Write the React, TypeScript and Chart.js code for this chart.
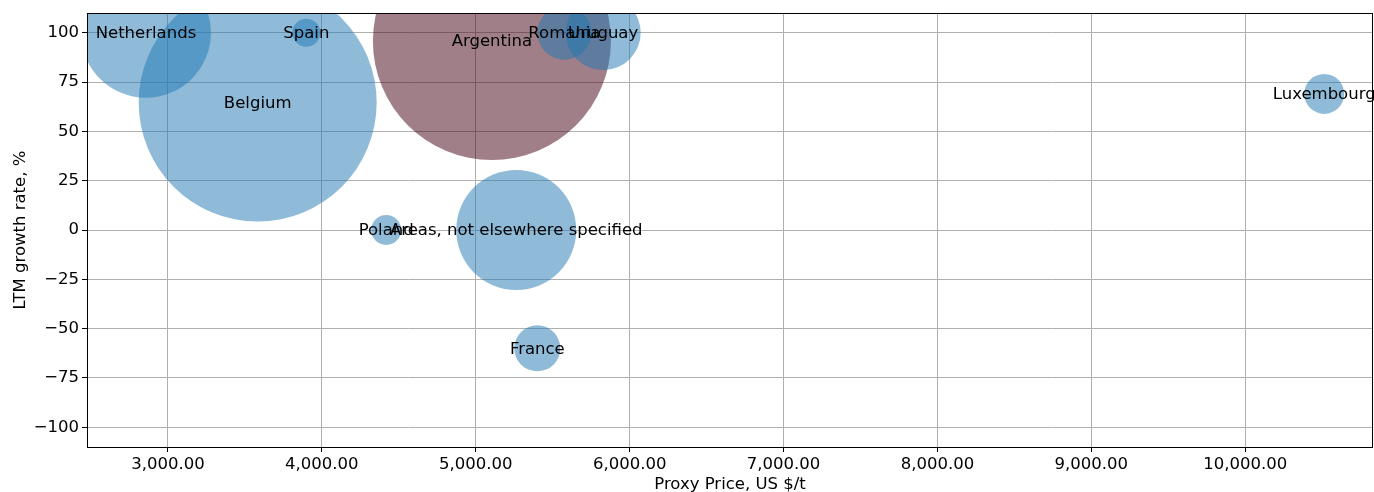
import React, { useEffect, useRef } from "react";
import { Chart, registerables } from "chart.js";

Chart.register(...registerables);

const countries = [
  "Netherlands",
  "Belgium",
  "Spain",
  "Poland",
  "Argentina",
  "Areas, not elsewhere specified",
  "France",
  "Romania",
  "Uruguay",
  "Luxembourg",
];
const proxyPrice = [2857, 3583, 3899, 4418, 5105, 5263, 5400, 5576, 5828, 10513];
const growthRate = [100, 64.6, 100, 0, 95.8, 0, -60, 100, 100, 69];
const bubbleRadius = [65, 119, 14, 15, 119, 60, 23, 27, 37.5, 20];
const highlight = [false, false, false, false, true, false, false, false, false, false];

const xTicks = [3000, 4000, 5000, 6000, 7000, 8000, 9000, 10000];
const yTicks = [-100, -75, -50, -25, 0, 25, 50, 75, 100];

const BLUE = "rgba(31,119,180,0.5)";
const MAROON = "rgba(65,0,20,0.5)";
const FONT = "'DejaVu Sans', sans-serif";
const FS = 16.5;

const labelPlugin = {
  id: "bubbleLabels",
  afterDatasetsDraw(chart: any) {
    const ctx = chart.ctx;
    const meta = chart.getDatasetMeta(0);
    ctx.save();
    ctx.font = `${FS}px ${FONT}`;
    ctx.fillStyle = "#000";
    ctx.textAlign = "center";
    ctx.textBaseline = "middle";
    meta.data.forEach((el: any, i: number) => {
      ctx.fillText(countries[i], el.x, el.y + 1);
    });
    ctx.restore();
  },
};

const framePlugin = {
  id: "frame",
  afterDraw(chart: any) {
    const { ctx, chartArea } = chart;
    ctx.save();
    ctx.strokeStyle = "#000";
    ctx.lineWidth = 1;
    ctx.strokeRect(
      Math.round(chartArea.left) + 0.5,
      Math.round(chartArea.top) + 0.5,
      Math.round(chartArea.right - chartArea.left) - 1,
      Math.round(chartArea.bottom - chartArea.top)
    );
    ctx.restore();
  },
};

export default function App() {
  const ref = useRef<HTMLCanvasElement | null>(null);

  useEffect(() => {
    if (!ref.current) return;
    const data = countries.map((_, i) => ({
      x: proxyPrice[i],
      y: growthRate[i],
      r: bubbleRadius[i],
    }));
    const chart = new Chart(ref.current, {
      type: "bubble",
      data: {
        datasets: [
          {
            data,
            backgroundColor: highlight.map((h) => (h ? MAROON : BLUE)),
            borderWidth: 0,
            clip: 0,
          } as any,
        ],
      },
      options: {
        animation: false,
        responsive: false,
        maintainAspectRatio: false,
        events: [],
        layout: { autoPadding: false, padding: { top: 13, right: 1, left: 0, bottom: 0 } },
        plugins: {
          legend: { display: false },
          tooltip: { enabled: false },
        },
        scales: {
          x: {
            type: "linear",
            min: 2474,
            max: 10830,
            afterBuildTicks: (s: any) => {
              s.ticks = xTicks.map((v) => ({ value: v }));
            },
            afterFit: (s: any) => {
              s.height = 45;
            },
            grid: {
              color: "#b0b0b0",
              lineWidth: 1,
              tickColor: "#000",
              tickLength: 5,
            },
            border: { display: false },
            ticks: {
              color: "#000",
              font: { family: FONT, size: FS },
              padding: 3,
              maxRotation: 0,
              autoSkip: false,
              callback: (v: any) =>
                Number(v).toLocaleString("en-US", {
                  minimumFractionDigits: 2,
                  maximumFractionDigits: 2,
                }),
            },
            title: {
              display: true,
              text: "Proxy Price, US $/t",
              color: "#000",
              font: { family: FONT, size: FS, lineHeight: 1 },
              padding: { top: 0, bottom: -1 },
            },
          },
          y: {
            type: "linear",
            min: -110,
            max: 110,
            afterBuildTicks: (s: any) => {
              s.ticks = yTicks.map((v) => ({ value: v }));
            },
            afterFit: (s: any) => {
              s.width = 87;
            },
            grid: {
              color: "#b0b0b0",
              lineWidth: 1,
              tickColor: "#000",
              tickLength: 5,
            },
            border: { display: false },
            ticks: {
              color: "#000",
              font: { family: FONT, size: FS },
              padding: 3,
              autoSkip: false,
              callback: (v: any) => String(v).replace("-", "\u2212"),
            },
            title: {
              display: true,
              text: "LTM growth rate, %",
              color: "#000",
              font: { family: FONT, size: FS, lineHeight: 1 },
              padding: { top: 12, bottom: 0 },
            },
          },
        },
      },
      plugins: [labelPlugin, framePlugin],
    });
    return () => chart.destroy();
  }, []);

  return (
    <div
      style={{
        position: "absolute",
        left: 0,
        top: 0,
        width: 1374,
        height: 492,
        background: "#fff",
      }}
    >
      <canvas ref={ref} width={1374} height={492} style={{ display: "block" }} />
    </div>
  );
}
